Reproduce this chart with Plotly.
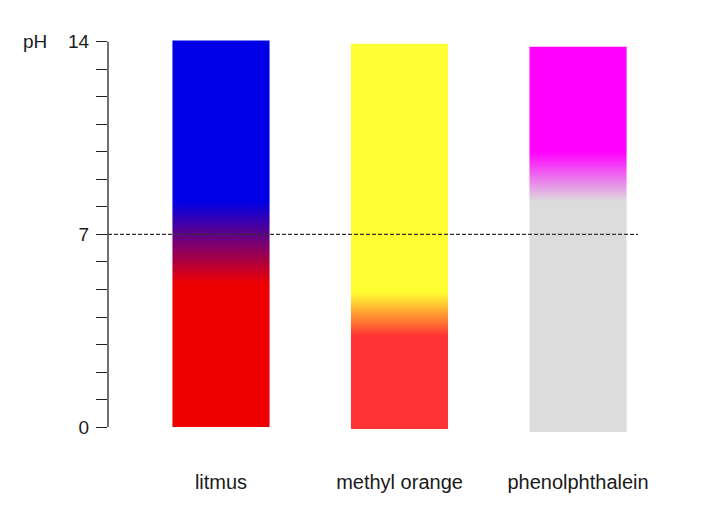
import plotly.graph_objects as go

# indicator names and where each column sits on the pH scale
indicators = ["litmus", "methyl orange", "phenolphthalein"]
positions = [1, 2, 3]
col_bottom = [0.0, -0.07, -0.18]
col_top = [14.05, 13.93, 13.82]

# colour change range (pH) and colours either side of it
change_low = [5.2, 3.3, 8.2]
change_high = [8.2, 4.9, 10.0]
acid_colour = ["#ee0000", "#ff3333", "#dcdcdc"]
alkali_colour = ["#0000e6", "#ffff33", "#ff00ff"]

ph_ticks = list(range(0, 15))
ph_labels = ["0", "", "", "", "", "", "", "7", "", "", "", "", "", "", "14"]
neutral = 7

half_width = 0.272
text_font = dict(family="Liberation Sans, Arial, sans-serif", size=19, color="#1a1a1a")

fig = go.Figure()

for name, x, lo, hi, c_lo, c_hi, acid, alk in zip(
    indicators, positions, col_bottom, col_top,
    change_low, change_high, acid_colour, alkali_colour
):
    span = hi - lo
    p1 = (c_lo - lo) / span
    p2 = (c_hi - lo) / span
    fig.add_trace(go.Scatter(
        x=[x - half_width, x + half_width, x + half_width, x - half_width, x - half_width],
        y=[lo, lo, hi, hi, lo],
        mode="lines",
        line=dict(width=0),
        fill="toself",
        fillgradient=dict(
            type="vertical",
            colorscale=[[0, acid], [p1, acid], [p2, alk], [1, alk]],
        ),
        name=name,
        hoverinfo="name",
        showlegend=False,
    ))

# neutral line
fig.add_shape(type="line", xref="paper", x0=0, x1=1, y0=neutral, y1=neutral,
              line=dict(color="#333333", width=1.3, dash="4px,2px"), layer="above")
# pH axis line, only between 0 and 14
fig.add_shape(type="line", xref="paper", x0=0, x1=0, y0=ph_ticks[0], y1=ph_ticks[-1],
              line=dict(color="#222222", width=1.3))

fig.add_annotation(text="pH", xref="paper", yref="y", x=-0.138, y=14, xanchor="center",
                   yanchor="middle", showarrow=False, font=text_font)

# page body adds 8px offset, so the margins are shifted to compensate
fig.update_layout(
    width=720, height=528,
    margin=dict(l=100, r=90, t=31, b=102),
    plot_bgcolor="white", paper_bgcolor="white",
    xaxis=dict(
        range=[0.367, 3.336],
        tickvals=positions, ticktext=indicators,
        showgrid=False, zeroline=False, showline=False, ticks="",
        tickfont=dict(text_font, size=20), ticklabelstandoff=34,
    ),
    yaxis=dict(
        range=[-0.25, 14.1],
        tickvals=ph_ticks, ticktext=ph_labels,
        showgrid=False, zeroline=False, showline=False,
        ticks="outside", ticklen=11, tickwidth=1.3, tickcolor="#222222",
        tickfont=text_font, ticklabelstandoff=3,
    ),
)

fig.write_html("out.html")
